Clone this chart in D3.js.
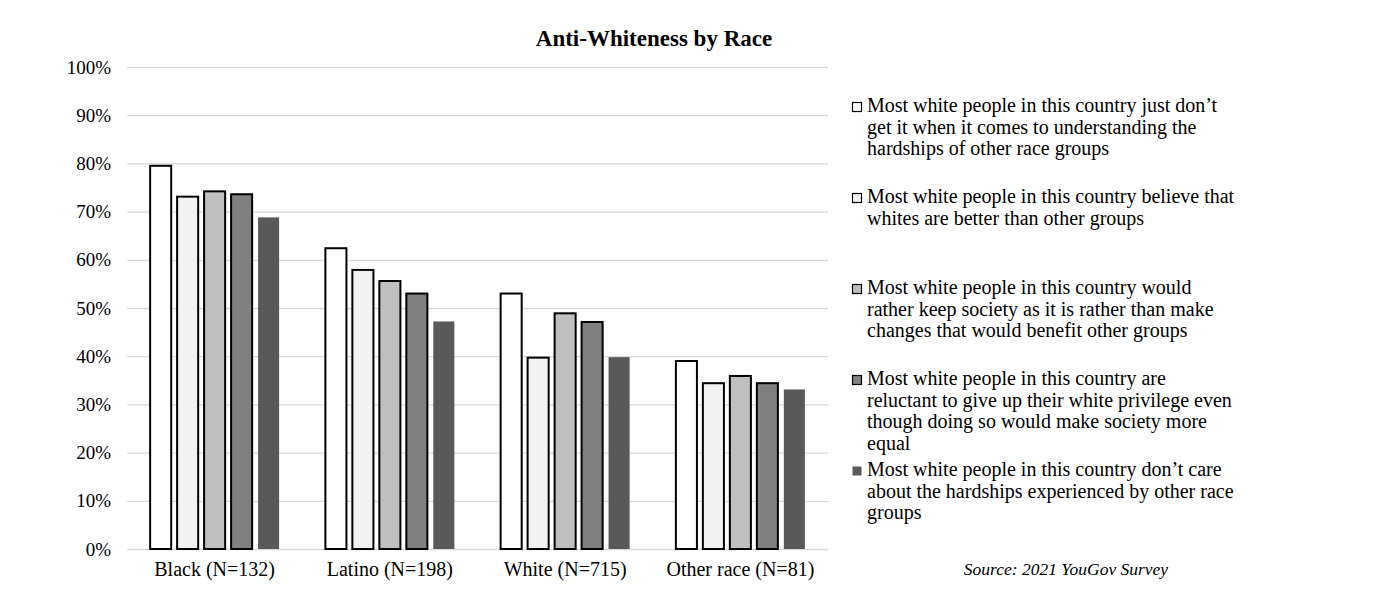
<!DOCTYPE html>
<html>
<head>
<meta charset="utf-8">
<script src="https://cdn.jsdelivr.net/npm/d3@7"></script>
<style>
    body { margin: 0; background: #fff; }
    svg text { font-family: "Liberation Serif", "Times New Roman", serif; fill: #000; }
</style>
</head>
<body>
<div id="chart"></div>
<script>
// categories and series
var groups = ["Black (N=132)", "Latino (N=198)", "White (N=715)", "Other race (N=81)"];
var seriesKeys = ["s1", "s2", "s3", "s4", "s5"];
var s1 = [79.5, 62.4, 53.0, 39.0];
var s2 = [73.1, 57.9, 39.7, 34.4];
var s3 = [74.2, 55.6, 48.9, 35.9];
var s4 = [73.6, 53.0, 47.1, 34.4];
var s5 = [68.8, 47.2, 39.8, 33.1];
var yTicks = [0, 10, 20, 30, 40, 50, 60, 70, 80, 90, 100];
var legendLines = [
    ["Most white people in this country just don\u2019t", "get it when it comes to understanding the", "hardships of other race groups"],
    ["Most white people in this country believe that", "whites are better than other groups"],
    ["Most white people in this country would", "rather keep society as it is rather than make", "changes that would benefit other groups"],
    ["Most white people in this country are", "reluctant to give up their white privilege even", "though doing so would make society more", "equal"],
    ["Most white people in this country don\u2019t care", "about the hardships experienced by other race", "groups"]
];
var title = "Anti-Whiteness by Race";
var source = "Source: 2021 YouGov Survey";

var fills = ["#ffffff", "#f2f2f2", "#bfbfbf", "#808080", "#595959"];
var strokes = ["#000", "#000", "#000", "#000", "none"];

var allSeries = [s1, s2, s3, s4, s5];
var data = groups.map(function(g, i) {
    var row = { group: g };
    seriesKeys.forEach(function(k, j) { row[k] = allSeries[j][i]; });
    return row;
});

var margin = { top: 67, left: 127 };
var width = 701, height = 482;

var svg = d3.select("#chart").append("svg")
    .attr("width", 1374)
    .attr("height", 610);

var g = svg.append("g")
    .attr("transform", "translate(" + margin.left + "," + margin.top + ")");

// Scales
var x0 = d3.scaleBand()
    .domain(groups)
    .range([0, width])
    .paddingInner(0.264)
    .paddingOuter(0.132);

var x1 = d3.scaleBand()
    .domain(seriesKeys)
    .range([0, x0.bandwidth()])
    .paddingInner(0.22);

var y = d3.scaleLinear()
    .domain([0, 100])
    .range([height, 0]);

// Gridlines
var grid = g.append("g")
    .call(d3.axisLeft(y).tickValues(yTicks).tickSize(-width).tickFormat(""));
grid.select(".domain").remove();
grid.selectAll("line").attr("stroke", "#d9d9d9").attr("stroke-width", 1.3);

// Y axis labels
var yAxis = g.append("g")
    .call(d3.axisLeft(y).tickValues(yTicks).tickSize(0).tickPadding(16)
        .tickFormat(function(d) { return d + "%"; }));
yAxis.select(".domain").remove();
yAxis.selectAll("text")
    .attr("font-size", "19px")
    .attr("font-family", "Liberation Serif, serif")
    .attr("fill", "#000");

// X axis labels
var xAxis = g.append("g")
    .attr("transform", "translate(0," + height + ")")
    .call(d3.axisBottom(x0).tickSize(0).tickPadding(13));
xAxis.select(".domain").remove();
xAxis.selectAll("text")
    .attr("font-size", "20px")
    .attr("font-family", "Liberation Serif, serif")
    .attr("fill", "#000");

// Bars
var groupSel = g.selectAll(".grp")
    .data(data)
    .enter().append("g")
    .attr("class", "grp")
    .attr("transform", function(d) { return "translate(" + x0(d.group) + ",0)"; });

groupSel.selectAll("rect")
    .data(function(d) { return seriesKeys.map(function(k, j) { return { key: k, idx: j, value: d[k] }; }); })
    .enter().append("rect")
    .attr("x", function(d) { return x1(d.key); })
    .attr("y", function(d) { return y(d.value); })
    .attr("width", x1.bandwidth())
    .attr("height", function(d) { return height - y(d.value); })
    .attr("fill", function(d) { return fills[d.idx]; })
    .attr("stroke", function(d) { return strokes[d.idx]; })
    .attr("stroke-width", 2);

// Title
svg.append("text")
    .attr("x", 654)
    .attr("y", 46)
    .attr("text-anchor", "middle")
    .attr("font-size", "23px")
    .attr("font-weight", "bold")
    .text(title);

// Legend
var legend = svg.append("g")
    .attr("transform", "translate(852,106)");

var item = legend.selectAll(".item")
    .data(legendLines)
    .enter().append("g")
    .attr("class", "item")
    .attr("transform", function(d, i) { return "translate(0," + (i * 91) + ")"; });

item.append("rect")
    .attr("x", 0.5)
    .attr("y", -3.5)
    .attr("width", 9)
    .attr("height", 9)
    .attr("fill", function(d, i) { return fills[i]; })
    .attr("stroke", function(d, i) { return i === 4 ? "none" : "#000"; })
    .attr("stroke-width", 1.2);

item.append("text")
    .attr("font-size", "20px")
    .selectAll("tspan")
    .data(function(d) { return d; })
    .enter().append("tspan")
    .attr("x", 15)
    .attr("y", function(d, i) { return 6 + i * 21.5; })
    .text(function(d) { return d; });

// Source
svg.append("text")
    .attr("x", 1066)
    .attr("y", 575)
    .attr("text-anchor", "middle")
    .attr("font-size", "17.5px")
    .attr("font-style", "italic")
    .text(source);
</script>
</body>
</html>
